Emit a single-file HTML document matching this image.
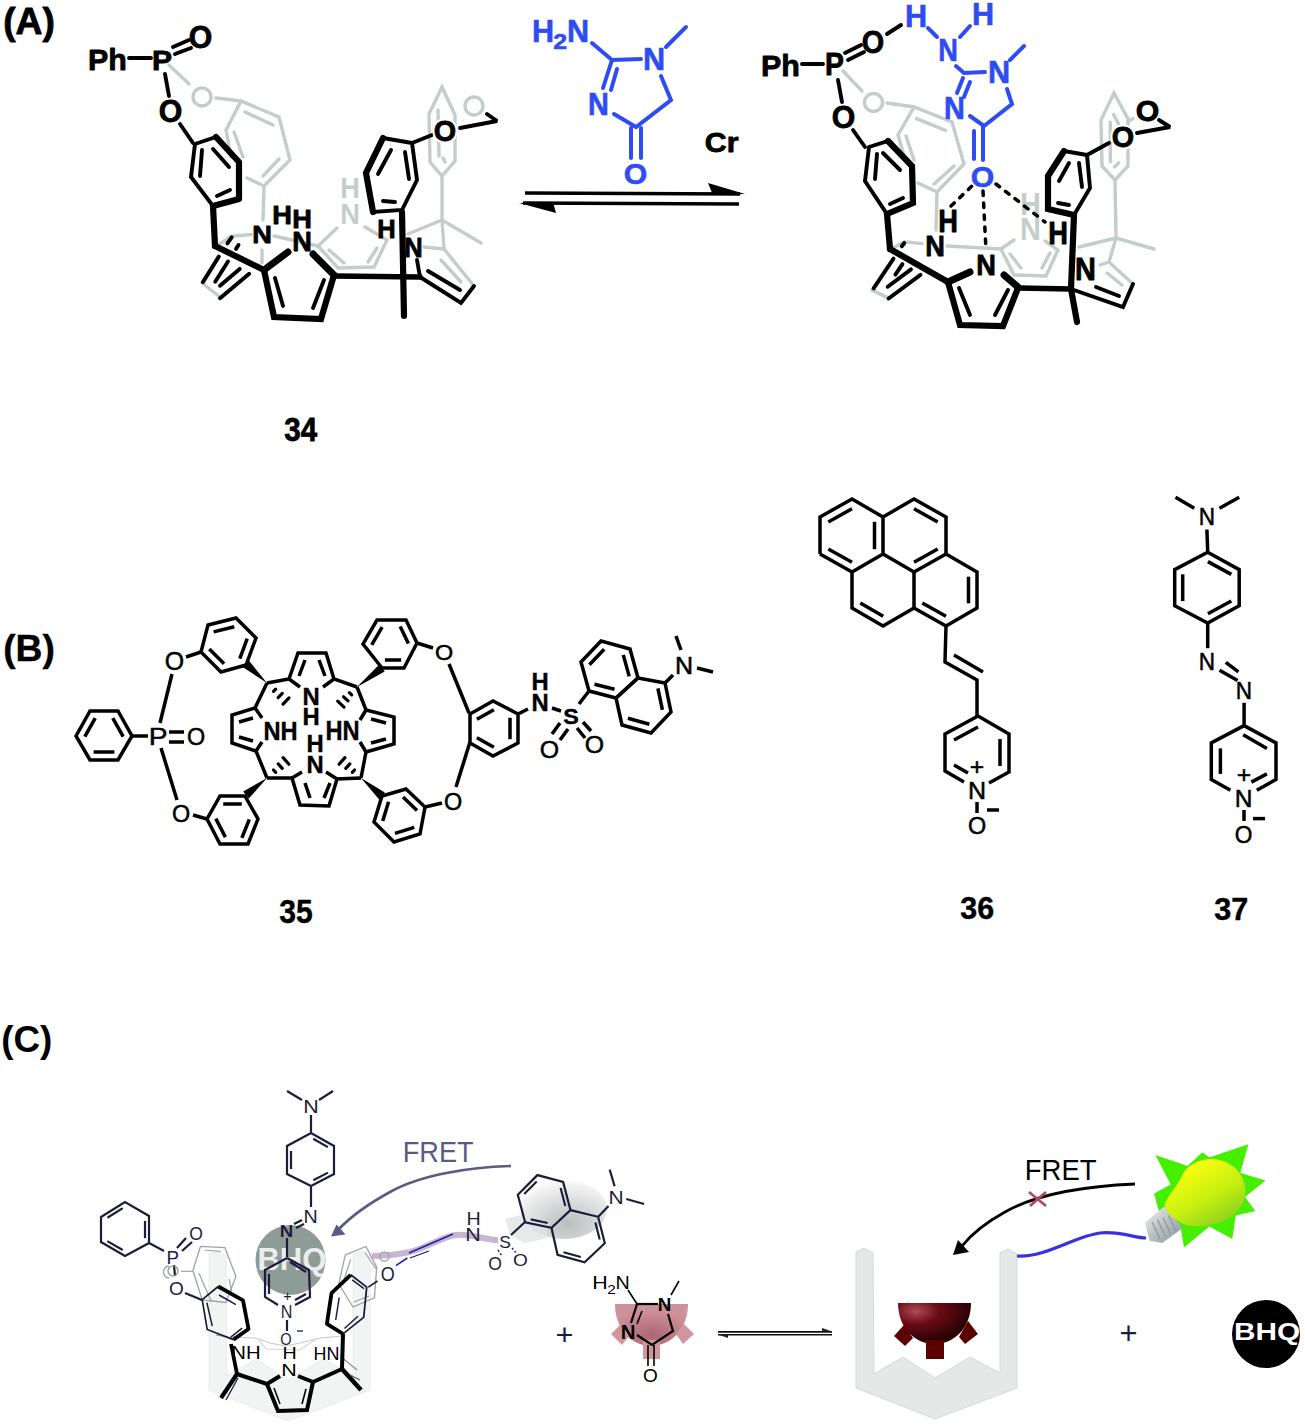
<!DOCTYPE html>
<html><head><meta charset="utf-8"><style>html,body{margin:0;padding:0;background:#fff;}svg{display:block;}</style></head>
<body><svg width="1305" height="1425" viewBox="0 0 1305 1425">
<rect width="1305" height="1425" fill="#fff"/>
<text transform="translate(3.14,33.99) scale(0.989,1)" font-family="Liberation Sans" font-weight="bold" font-size="37.66" fill="#000" stroke="#000" stroke-width="0.8" stroke-linejoin="round">(A)</text>
<line x1="169.0" y1="65.0" x2="189.0" y2="84.0" stroke="#c3cdca" stroke-width="3.4" stroke-linecap="round"/>
<circle cx="202" cy="97" r="9" fill="none" stroke="#c3cdca" stroke-width="3.4"/>
<polyline points="216.0,98.0 241.0,101.0 279.0,117.0 290.0,160.0 264.0,186.0 247.0,178.0" fill="none" stroke="#c3cdca" stroke-width="3.4" stroke-linecap="round" stroke-linejoin="miter" stroke-miterlimit="2.5"/>
<polyline points="241.0,101.0 226.0,130.0 231.0,157.0" fill="none" stroke="#c3cdca" stroke-width="3.4" stroke-linecap="round" stroke-linejoin="miter" stroke-miterlimit="2.5"/>
<line x1="234.0" y1="132.0" x2="243.0" y2="157.0" stroke="#c3cdca" stroke-width="3.4" stroke-linecap="round"/>
<line x1="245.0" y1="112.0" x2="273.0" y2="125.0" stroke="#c3cdca" stroke-width="3.4" stroke-linecap="round"/>
<line x1="279.0" y1="159.0" x2="263.0" y2="176.0" stroke="#c3cdca" stroke-width="3.4" stroke-linecap="round"/>
<line x1="264.0" y1="186.0" x2="263.0" y2="220.0" stroke="#c3cdca" stroke-width="3.4" stroke-linecap="round"/>
<line x1="262.0" y1="250.0" x2="262.0" y2="263.0" stroke="#c3cdca" stroke-width="3.4" stroke-linecap="round"/>
<polyline points="218.8,244.6 230.8,236.3 251.3,234.5" fill="none" stroke="#c3cdca" stroke-width="3.4" stroke-linecap="round" stroke-linejoin="miter" stroke-miterlimit="2.5"/>
<line x1="274.0" y1="236.0" x2="318.0" y2="246.0" stroke="#c3cdca" stroke-width="3.4" stroke-linecap="round"/>
<polyline points="318.0,246.0 337.0,228.0" fill="none" stroke="#c3cdca" stroke-width="3.4" stroke-linecap="round" stroke-linejoin="miter" stroke-miterlimit="2.5"/>
<text transform="translate(340.18,198.00) scale(0.936,1)" font-family="Liberation Sans" font-weight="bold" font-size="29.07" fill="#c3cdca">H</text>
<text transform="translate(340.18,224.00) scale(0.936,1)" font-family="Liberation Sans" font-weight="bold" font-size="29.07" fill="#c3cdca">N</text>
<polyline points="365.0,227.0 387.0,240.0 374.0,267.0 338.0,268.0 318.0,246.0" fill="none" stroke="#c3cdca" stroke-width="3.4" stroke-linecap="round" stroke-linejoin="miter" stroke-miterlimit="2.5"/>
<line x1="329.0" y1="250.0" x2="344.0" y2="263.0" stroke="#c3cdca" stroke-width="3.4" stroke-linecap="round"/>
<line x1="377.0" y1="248.0" x2="368.0" y2="262.0" stroke="#c3cdca" stroke-width="3.4" stroke-linecap="round"/>
<line x1="408.0" y1="234.0" x2="442.0" y2="220.0" stroke="#c3cdca" stroke-width="3.4" stroke-linecap="round"/>
<line x1="442.0" y1="220.0" x2="481.0" y2="243.0" stroke="#c3cdca" stroke-width="3.4" stroke-linecap="round"/>
<line x1="442.0" y1="220.0" x2="444.0" y2="249.0" stroke="#c3cdca" stroke-width="3.4" stroke-linecap="round"/>
<line x1="424.0" y1="247.0" x2="444.0" y2="249.0" stroke="#c3cdca" stroke-width="3.4" stroke-linecap="round"/>
<line x1="444.0" y1="249.0" x2="474.0" y2="286.0" stroke="#c3cdca" stroke-width="3.4" stroke-linecap="round"/>
<line x1="441.0" y1="260.0" x2="461.0" y2="282.0" stroke="#c3cdca" stroke-width="3.4" stroke-linecap="round"/>
<line x1="442.0" y1="176.0" x2="442.0" y2="220.0" stroke="#c3cdca" stroke-width="3.4" stroke-linecap="round"/>
<polygon points="442.0,87.0 455.0,115.0 455.0,161.0 442.0,176.0 430.0,162.0 429.0,114.0" fill="none" stroke="#c3cdca" stroke-width="3.4" stroke-linecap="round" stroke-linejoin="miter" stroke-miterlimit="2.5"/>
<line x1="438.0" y1="110.0" x2="439.0" y2="156.0" stroke="#c3cdca" stroke-width="3.4" stroke-linecap="round"/>
<line x1="443.0" y1="158.0" x2="445.0" y2="162.0" stroke="#c3cdca" stroke-width="3.4" stroke-linecap="round"/>
<circle cx="474" cy="106" r="9" fill="none" stroke="#c3cdca" stroke-width="3.4"/>
<line x1="202.0" y1="283.0" x2="220.0" y2="297.0" stroke="#c3cdca" stroke-width="3.4" stroke-linecap="round"/>
<text transform="translate(87.96,70.00) scale(1.003,1)" font-family="Liberation Sans" font-weight="bold" font-size="30.36" fill="#000" stroke="#000" stroke-width="0.8" stroke-linejoin="round">Ph</text>
<line x1="129.0" y1="58.0" x2="151.0" y2="58.0" stroke="#000" stroke-width="3.9" stroke-linecap="round"/>
<text transform="translate(151.99,70.00) scale(1.088,1)" font-family="Liberation Sans" font-weight="bold" font-size="27.62" fill="#000" stroke="#000" stroke-width="0.8" stroke-linejoin="round">P</text>
<line x1="173.0" y1="47.0" x2="189.0" y2="40.0" stroke="#000" stroke-width="3.9" stroke-linecap="round"/>
<line x1="175.0" y1="54.0" x2="191.0" y2="48.0" stroke="#000" stroke-width="3.9" stroke-linecap="round"/>
<text transform="translate(188.76,47.70) scale(0.973,1)" font-family="Liberation Sans" font-weight="bold" font-size="31.07" fill="#000" stroke="#000" stroke-width="0.8" stroke-linejoin="round">O</text>
<line x1="165.0" y1="74.0" x2="169.0" y2="96.0" stroke="#000" stroke-width="3.9" stroke-linecap="round"/>
<text transform="translate(158.76,121.70) scale(0.973,1)" font-family="Liberation Sans" font-weight="bold" font-size="31.07" fill="#000" stroke="#000" stroke-width="0.8" stroke-linejoin="round">O</text>
<line x1="180.0" y1="124.0" x2="193.0" y2="143.0" stroke="#000" stroke-width="3.9" stroke-linecap="round"/>
<polyline points="195.0,144.0 216.0,137.0 239.0,162.0 239.0,199.0 213.0,206.0 191.0,177.0 195.0,144.0" fill="none" stroke="#000" stroke-width="3.9" stroke-linecap="round" stroke-linejoin="miter" stroke-miterlimit="2.5"/>
<polyline points="216.0,137.0 239.0,162.0 239.0,199.0 213.0,206.0" fill="none" stroke="#000" stroke-width="6.2" stroke-linecap="round" stroke-linejoin="round" stroke-miterlimit="2.5"/>
<line x1="202.0" y1="150.0" x2="200.0" y2="176.0" stroke="#000" stroke-width="3.9" stroke-linecap="round"/>
<line x1="213.0" y1="149.0" x2="229.0" y2="167.0" stroke="#000" stroke-width="3.9" stroke-linecap="round"/>
<line x1="217.0" y1="196.0" x2="230.0" y2="190.0" stroke="#000" stroke-width="3.9" stroke-linecap="round"/>
<line x1="213.0" y1="206.0" x2="215.0" y2="246.0" stroke="#000" stroke-width="6.2" stroke-linecap="round"/>
<line x1="215.0" y1="246.0" x2="264.0" y2="270.0" stroke="#000" stroke-width="6.2" stroke-linecap="round"/>
<line x1="202.9" y1="282.1" x2="218.8" y2="256.6" stroke="#000" stroke-width="3.9" stroke-linecap="round"/>
<line x1="215.2" y1="281.7" x2="228.0" y2="261.5" stroke="#000" stroke-width="3.9" stroke-linecap="round"/>
<line x1="220.0" y1="285.7" x2="239.7" y2="268.9" stroke="#000" stroke-width="3.9" stroke-linecap="round"/>
<line x1="220.0" y1="298.3" x2="249.2" y2="273.8" stroke="#000" stroke-width="3.9" stroke-linecap="round"/>
<line x1="227.4" y1="243.4" x2="231.7" y2="237.3" stroke="#000" stroke-width="3.9" stroke-linecap="round"/>
<line x1="236.0" y1="248.9" x2="238.5" y2="245.0" stroke="#000" stroke-width="3.9" stroke-linecap="round"/>
<line x1="264.0" y1="270.0" x2="288.0" y2="252.0" stroke="#000" stroke-width="7" stroke-linecap="round"/>
<line x1="313.0" y1="254.0" x2="334.0" y2="275.0" stroke="#000" stroke-width="7" stroke-linecap="round"/>
<polyline points="334.0,275.0 321.0,319.0 274.0,317.0 264.0,270.0" fill="none" stroke="#000" stroke-width="6.2" stroke-linecap="round" stroke-linejoin="miter" stroke-miterlimit="2.5"/>
<line x1="275.0" y1="278.0" x2="283.0" y2="306.0" stroke="#000" stroke-width="3.9" stroke-linecap="round"/>
<line x1="324.0" y1="280.0" x2="313.0" y2="308.0" stroke="#000" stroke-width="3.9" stroke-linecap="round"/>
<text transform="translate(292.18,251.00) scale(0.985,1)" font-family="Liberation Sans" font-weight="bold" font-size="27.62" fill="#000" stroke="#000" stroke-width="0.8" stroke-linejoin="round">N</text>
<text transform="translate(292.18,228.00) scale(1.040,1)" font-family="Liberation Sans" font-weight="bold" font-size="26.16" fill="#000" stroke="#000" stroke-width="0.8" stroke-linejoin="round">H</text>
<text transform="translate(272.18,224.00) scale(1.040,1)" font-family="Liberation Sans" font-weight="bold" font-size="26.16" fill="#000" stroke="#000" stroke-width="0.8" stroke-linejoin="round">H</text>
<text transform="translate(252.18,243.00) scale(1.101,1)" font-family="Liberation Sans" font-weight="bold" font-size="24.71" fill="#000" stroke="#000" stroke-width="0.8" stroke-linejoin="round">N</text>
<line x1="334.0" y1="276.0" x2="420.0" y2="277.0" stroke="#000" stroke-width="5.5" stroke-linecap="round"/>
<line x1="402.0" y1="212.0" x2="404.0" y2="316.0" stroke="#000" stroke-width="6.2" stroke-linecap="round"/>
<polyline points="383.0,138.0 412.0,143.0 417.0,180.0 402.0,210.0 373.0,212.0 366.0,173.0 383.0,138.0" fill="none" stroke="#000" stroke-width="3.9" stroke-linecap="round" stroke-linejoin="miter" stroke-miterlimit="2.5"/>
<polyline points="373.0,212.0 366.0,173.0 383.0,138.0" fill="none" stroke="#000" stroke-width="6.2" stroke-linecap="round" stroke-linejoin="miter" stroke-miterlimit="2.5"/>
<line x1="378.0" y1="174.0" x2="391.0" y2="150.0" stroke="#000" stroke-width="3.9" stroke-linecap="round"/>
<line x1="405.0" y1="152.0" x2="409.0" y2="179.0" stroke="#000" stroke-width="3.9" stroke-linecap="round"/>
<line x1="383.0" y1="201.0" x2="395.0" y2="202.0" stroke="#000" stroke-width="3.9" stroke-linecap="round"/>
<line x1="412.0" y1="143.0" x2="432.0" y2="135.0" stroke="#000" stroke-width="3.9" stroke-linecap="round"/>
<text transform="translate(433.82,140.71) scale(0.970,1)" font-family="Liberation Sans" font-weight="bold" font-size="29.66" fill="#fff" stroke="#fff" stroke-width="5" stroke-linejoin="round">O</text>
<text transform="translate(433.82,140.71) scale(0.970,1)" font-family="Liberation Sans" font-weight="bold" font-size="29.66" fill="#000" stroke="#000" stroke-width="0.8" stroke-linejoin="round">O</text>
<polyline points="460.0,128.0 497.0,121.0 487.0,114.0" fill="none" stroke="#000" stroke-width="3.9" stroke-linecap="round" stroke-linejoin="miter" stroke-miterlimit="2.5"/>
<text transform="translate(377.29,238.00) scale(0.975,1)" font-family="Liberation Sans" font-weight="bold" font-size="26.16" fill="#000" stroke="#000" stroke-width="0.8" stroke-linejoin="round">H</text>
<text transform="translate(404.29,257.00) scale(0.924,1)" font-family="Liberation Sans" font-weight="bold" font-size="27.62" fill="#000" stroke="#000" stroke-width="0.8" stroke-linejoin="round">N</text>
<line x1="417.0" y1="260.0" x2="420.0" y2="277.0" stroke="#000" stroke-width="3.9" stroke-linecap="round"/>
<polyline points="420.0,277.0 461.0,303.0 474.0,286.0" fill="none" stroke="#000" stroke-width="3.9" stroke-linecap="round" stroke-linejoin="miter" stroke-miterlimit="2.5"/>
<line x1="428.0" y1="271.0" x2="460.0" y2="290.0" stroke="#000" stroke-width="3.9" stroke-linecap="round"/>
<text transform="translate(284.32,440.64) scale(0.911,1)" font-family="Liberation Sans" font-weight="bold" font-size="32.42" fill="#000" stroke="#000" stroke-width="0.8" stroke-linejoin="round">34</text>
<text transform="translate(531.95,42.00) scale(0.957,1)" font-family="Liberation Sans" font-weight="bold" font-size="31.98" fill="#2e4cf2" stroke="#2e4cf2" stroke-width="0.6" stroke-linejoin="round">H</text>
<text transform="translate(553.14,49.00) scale(1.088,1)" font-family="Liberation Sans" font-weight="bold" font-size="22.91" fill="#2e4cf2" stroke="#2e4cf2" stroke-width="0.6" stroke-linejoin="round">2</text>
<text transform="translate(566.95,42.00) scale(0.957,1)" font-family="Liberation Sans" font-weight="bold" font-size="31.98" fill="#2e4cf2" stroke="#2e4cf2" stroke-width="0.6" stroke-linejoin="round">N</text>
<line x1="592.0" y1="43.0" x2="612.0" y2="60.0" stroke="#2e4cf2" stroke-width="4" stroke-linecap="round"/>
<line x1="612.0" y1="60.0" x2="641.0" y2="59.0" stroke="#2e4cf2" stroke-width="4" stroke-linecap="round"/>
<text transform="translate(642.95,70.00) scale(1.003,1)" font-family="Liberation Sans" font-weight="bold" font-size="30.52" fill="#2e4cf2" stroke="#2e4cf2" stroke-width="0.6" stroke-linejoin="round">N</text>
<line x1="666.0" y1="47.0" x2="686.0" y2="27.0" stroke="#2e4cf2" stroke-width="4" stroke-linecap="round"/>
<polyline points="661.0,76.0 671.0,100.0 636.0,127.0 614.0,114.0" fill="none" stroke="#2e4cf2" stroke-width="4" stroke-linecap="round" stroke-linejoin="miter" stroke-miterlimit="2.5"/>
<text transform="translate(588.07,115.00) scale(0.947,1)" font-family="Liberation Sans" font-weight="bold" font-size="30.52" fill="#2e4cf2" stroke="#2e4cf2" stroke-width="0.6" stroke-linejoin="round">N</text>
<line x1="612.0" y1="60.0" x2="603.0" y2="88.0" stroke="#2e4cf2" stroke-width="4" stroke-linecap="round"/>
<line x1="617.0" y1="69.0" x2="611.0" y2="90.0" stroke="#2e4cf2" stroke-width="4" stroke-linecap="round"/>
<line x1="631.0" y1="128.0" x2="631.0" y2="158.0" stroke="#2e4cf2" stroke-width="4" stroke-linecap="round"/>
<line x1="641.0" y1="128.0" x2="641.0" y2="158.0" stroke="#2e4cf2" stroke-width="4" stroke-linecap="round"/>
<text transform="translate(623.76,183.71) scale(1.019,1)" font-family="Liberation Sans" font-weight="bold" font-size="29.66" fill="#2e4cf2" stroke="#2e4cf2" stroke-width="0.6" stroke-linejoin="round">O</text>
<text transform="translate(704.76,151.74) scale(1.130,1)" font-family="Liberation Sans" font-weight="bold" font-size="26.84" fill="#000" stroke="#000" stroke-width="0.8" stroke-linejoin="round">Cr</text>
<line x1="525.0" y1="193.0" x2="740.0" y2="194.0" stroke="#000" stroke-width="3.6" stroke-linecap="butt"/>
<polygon points="708.0,183.0 745.0,194.0 713.0,195.0" fill="#000"/>
<line x1="523.0" y1="203.0" x2="739.0" y2="204.0" stroke="#000" stroke-width="3.6" stroke-linecap="butt"/>
<polygon points="519.0,203.0 556.0,213.0 553.0,202.0" fill="#000"/>
<line x1="843.0" y1="71.0" x2="862.0" y2="91.0" stroke="#c3cdca" stroke-width="3.4" stroke-linecap="round"/>
<circle cx="873.5" cy="102.5" r="9" fill="none" stroke="#c3cdca" stroke-width="3.4"/>
<polyline points="887.0,103.0 914.0,107.0 952.0,122.0 964.0,164.0 937.0,192.0 918.0,183.0" fill="none" stroke="#c3cdca" stroke-width="3.4" stroke-linecap="round" stroke-linejoin="miter" stroke-miterlimit="2.5"/>
<polyline points="914.0,107.0 898.0,135.0 905.0,159.0" fill="none" stroke="#c3cdca" stroke-width="3.4" stroke-linecap="round" stroke-linejoin="miter" stroke-miterlimit="2.5"/>
<line x1="916.6" y1="118.6" x2="945.5" y2="130.3" stroke="#c3cdca" stroke-width="3.4" stroke-linecap="round"/>
<line x1="906.0" y1="136.0" x2="914.0" y2="160.0" stroke="#c3cdca" stroke-width="3.4" stroke-linecap="round"/>
<line x1="954.0" y1="166.0" x2="934.0" y2="184.0" stroke="#c3cdca" stroke-width="3.4" stroke-linecap="round"/>
<line x1="937.0" y1="192.0" x2="936.0" y2="230.0" stroke="#c3cdca" stroke-width="3.4" stroke-linecap="round"/>
<polyline points="892.0,248.5 904.3,241.7 922.0,243.6" fill="none" stroke="#c3cdca" stroke-width="3.4" stroke-linecap="round" stroke-linejoin="miter" stroke-miterlimit="2.5"/>
<line x1="947.0" y1="246.0" x2="1001.0" y2="249.0" stroke="#c3cdca" stroke-width="3.4" stroke-linecap="round"/>
<line x1="1001.0" y1="249.0" x2="1014.0" y2="240.0" stroke="#c3cdca" stroke-width="3.4" stroke-linecap="round"/>
<text transform="translate(1020.07,215.00) scale(0.947,1)" font-family="Liberation Sans" font-weight="bold" font-size="30.52" fill="#c3cdca">H</text>
<text transform="translate(1020.07,240.00) scale(0.947,1)" font-family="Liberation Sans" font-weight="bold" font-size="30.52" fill="#c3cdca">N</text>
<polyline points="1045.0,241.0 1058.0,250.0 1046.0,276.0 1014.0,275.0 1001.0,249.0" fill="none" stroke="#c3cdca" stroke-width="3.4" stroke-linecap="round" stroke-linejoin="miter" stroke-miterlimit="2.5"/>
<line x1="1010.0" y1="254.0" x2="1021.0" y2="268.0" stroke="#c3cdca" stroke-width="3.4" stroke-linecap="round"/>
<line x1="1050.0" y1="253.0" x2="1042.0" y2="268.0" stroke="#c3cdca" stroke-width="3.4" stroke-linecap="round"/>
<line x1="1079.0" y1="247.0" x2="1116.0" y2="238.0" stroke="#c3cdca" stroke-width="3.4" stroke-linecap="round"/>
<line x1="1116.0" y1="238.0" x2="1154.0" y2="249.0" stroke="#c3cdca" stroke-width="3.4" stroke-linecap="round"/>
<line x1="1116.0" y1="238.0" x2="1109.0" y2="262.0" stroke="#c3cdca" stroke-width="3.4" stroke-linecap="round"/>
<line x1="1100.0" y1="265.0" x2="1109.0" y2="262.0" stroke="#c3cdca" stroke-width="3.4" stroke-linecap="round"/>
<line x1="1109.0" y1="262.0" x2="1133.0" y2="284.0" stroke="#c3cdca" stroke-width="3.4" stroke-linecap="round"/>
<line x1="1107.0" y1="273.0" x2="1122.0" y2="285.0" stroke="#c3cdca" stroke-width="3.4" stroke-linecap="round"/>
<line x1="1115.0" y1="180.0" x2="1116.0" y2="238.0" stroke="#c3cdca" stroke-width="3.4" stroke-linecap="round"/>
<polygon points="1114.0,93.0 1128.0,119.0 1128.0,166.0 1115.0,180.0 1102.0,166.0 1101.0,120.0" fill="none" stroke="#c3cdca" stroke-width="3.4" stroke-linecap="round" stroke-linejoin="miter" stroke-miterlimit="2.5"/>
<line x1="1113.6" y1="114.5" x2="1118.7" y2="124.6" stroke="#c3cdca" stroke-width="3.4" stroke-linecap="round"/>
<line x1="1110.3" y1="122.1" x2="1110.3" y2="161.7" stroke="#c3cdca" stroke-width="3.4" stroke-linecap="round"/>
<line x1="1114.5" y1="166.7" x2="1118.7" y2="162.9" stroke="#c3cdca" stroke-width="3.4" stroke-linecap="round"/>
<line x1="1127.9" y1="121.2" x2="1133.0" y2="118.7" stroke="#c3cdca" stroke-width="3.4" stroke-linecap="round"/>
<line x1="871.7" y1="289.9" x2="888.0" y2="297.9" stroke="#c3cdca" stroke-width="3.4" stroke-linecap="round"/>
<text transform="translate(760.96,76.00) scale(1.003,1)" font-family="Liberation Sans" font-weight="bold" font-size="30.36" fill="#000" stroke="#000" stroke-width="0.8" stroke-linejoin="round">Ph</text>
<line x1="802.0" y1="64.0" x2="823.0" y2="64.0" stroke="#000" stroke-width="3.9" stroke-linecap="round"/>
<text transform="translate(825.11,75.00) scale(0.926,1)" font-family="Liberation Sans" font-weight="bold" font-size="30.52" fill="#000" stroke="#000" stroke-width="0.8" stroke-linejoin="round">P</text>
<line x1="845.0" y1="53.0" x2="861.0" y2="45.0" stroke="#000" stroke-width="3.9" stroke-linecap="round"/>
<line x1="848.0" y1="60.0" x2="864.0" y2="52.0" stroke="#000" stroke-width="3.9" stroke-linecap="round"/>
<text transform="translate(861.82,52.70) scale(0.926,1)" font-family="Liberation Sans" font-weight="bold" font-size="31.07" fill="#000" stroke="#000" stroke-width="0.8" stroke-linejoin="round">O</text>
<line x1="887.0" y1="34.0" x2="901.0" y2="25.0" stroke="#000" stroke-width="3.9" stroke-linecap="round"/>
<line x1="838.0" y1="80.0" x2="842.0" y2="102.0" stroke="#000" stroke-width="3.9" stroke-linecap="round"/>
<text transform="translate(831.76,127.70) scale(0.973,1)" font-family="Liberation Sans" font-weight="bold" font-size="31.07" fill="#000" stroke="#000" stroke-width="0.8" stroke-linejoin="round">O</text>
<line x1="853.0" y1="130.0" x2="865.0" y2="147.0" stroke="#000" stroke-width="3.9" stroke-linecap="round"/>
<polyline points="869.0,147.0 888.0,141.0 912.0,166.0 913.0,203.0 887.0,214.0 865.0,181.0 869.0,147.0" fill="none" stroke="#000" stroke-width="3.9" stroke-linecap="round" stroke-linejoin="miter" stroke-miterlimit="2.5"/>
<polyline points="888.0,141.0 912.0,166.0 913.0,203.0 887.0,214.0" fill="none" stroke="#000" stroke-width="6.2" stroke-linecap="round" stroke-linejoin="miter" stroke-miterlimit="2.5"/>
<line x1="875.0" y1="179.0" x2="877.0" y2="154.0" stroke="#000" stroke-width="3.9" stroke-linecap="round"/>
<line x1="883.0" y1="153.0" x2="900.0" y2="170.0" stroke="#000" stroke-width="3.9" stroke-linecap="round"/>
<line x1="890.0" y1="204.0" x2="903.0" y2="198.0" stroke="#000" stroke-width="3.9" stroke-linecap="round"/>
<line x1="887.0" y1="214.0" x2="890.0" y2="249.0" stroke="#000" stroke-width="6.2" stroke-linecap="round"/>
<line x1="890.0" y1="249.0" x2="948.0" y2="282.0" stroke="#000" stroke-width="6.2" stroke-linecap="round"/>
<line x1="948.0" y1="282.0" x2="970.0" y2="272.0" stroke="#000" stroke-width="7" stroke-linecap="round"/>
<text transform="translate(976.18,275.00) scale(0.936,1)" font-family="Liberation Sans" font-weight="bold" font-size="29.07" fill="#000" stroke="#000" stroke-width="0.8" stroke-linejoin="round">N</text>
<line x1="1004.0" y1="275.0" x2="1018.0" y2="287.0" stroke="#000" stroke-width="7" stroke-linecap="round"/>
<polyline points="1018.0,288.0 1003.0,326.0 960.0,325.0 948.0,282.0" fill="none" stroke="#000" stroke-width="6.2" stroke-linecap="round" stroke-linejoin="miter" stroke-miterlimit="2.5"/>
<line x1="959.0" y1="288.0" x2="970.0" y2="315.0" stroke="#000" stroke-width="3.9" stroke-linecap="round"/>
<line x1="1008.0" y1="290.0" x2="995.0" y2="315.0" stroke="#000" stroke-width="3.9" stroke-linecap="round"/>
<line x1="1018.0" y1="288.0" x2="1071.0" y2="289.0" stroke="#000" stroke-width="5.5" stroke-linecap="round"/>
<polyline points="1074.0,215.0 1071.0,289.0 1077.0,322.0" fill="none" stroke="#000" stroke-width="6.2" stroke-linecap="round" stroke-linejoin="miter" stroke-miterlimit="2.5"/>
<polyline points="1064.0,151.0 1087.0,155.0 1090.0,188.0 1074.0,215.0 1048.0,209.0 1048.0,176.0 1064.0,151.0" fill="none" stroke="#000" stroke-width="3.9" stroke-linecap="round" stroke-linejoin="miter" stroke-miterlimit="2.5"/>
<polyline points="1074.0,215.0 1048.0,209.0 1048.0,176.0 1064.0,151.0" fill="none" stroke="#000" stroke-width="6.2" stroke-linecap="round" stroke-linejoin="miter" stroke-miterlimit="2.5"/>
<line x1="1059.0" y1="181.0" x2="1069.0" y2="163.0" stroke="#000" stroke-width="3.9" stroke-linecap="round"/>
<line x1="1079.0" y1="163.0" x2="1082.0" y2="187.0" stroke="#000" stroke-width="3.9" stroke-linecap="round"/>
<line x1="1058.0" y1="203.0" x2="1069.0" y2="205.0" stroke="#000" stroke-width="3.9" stroke-linecap="round"/>
<line x1="1087.0" y1="155.0" x2="1109.0" y2="143.0" stroke="#000" stroke-width="3.9" stroke-linecap="round"/>
<text transform="translate(1111.82,146.71) scale(0.970,1)" font-family="Liberation Sans" font-weight="bold" font-size="29.66" fill="#fff" stroke="#fff" stroke-width="5" stroke-linejoin="round">O</text>
<text transform="translate(1111.82,146.71) scale(0.970,1)" font-family="Liberation Sans" font-weight="bold" font-size="29.66" fill="#000" stroke="#000" stroke-width="0.8" stroke-linejoin="round">O</text>
<polyline points="1137.0,133.0 1170.0,127.0 1159.0,120.0" fill="none" stroke="#000" stroke-width="3.9" stroke-linecap="round" stroke-linejoin="miter" stroke-miterlimit="2.5"/>
<text transform="translate(1135.76,120.71) scale(1.019,1)" font-family="Liberation Sans" font-weight="bold" font-size="29.66" fill="#000" stroke="#000" stroke-width="0.8" stroke-linejoin="round">O</text>
<text transform="translate(938.18,232.00) scale(0.892,1)" font-family="Liberation Sans" font-weight="bold" font-size="30.52" fill="#000" stroke="#000" stroke-width="0.8" stroke-linejoin="round">H</text>
<text transform="translate(925.18,256.00) scale(0.936,1)" font-family="Liberation Sans" font-weight="bold" font-size="29.07" fill="#000" stroke="#000" stroke-width="0.8" stroke-linejoin="round">N</text>
<text transform="translate(1048.18,244.00) scale(0.892,1)" font-family="Liberation Sans" font-weight="bold" font-size="30.52" fill="#000" stroke="#000" stroke-width="0.8" stroke-linejoin="round">H</text>
<text transform="translate(1075.07,280.00) scale(0.947,1)" font-family="Liberation Sans" font-weight="bold" font-size="30.52" fill="#000" stroke="#000" stroke-width="0.8" stroke-linejoin="round">N</text>
<line x1="873.6" y1="288.4" x2="893.5" y2="258.6" stroke="#000" stroke-width="3.9" stroke-linecap="round"/>
<line x1="895.4" y1="274.6" x2="902.4" y2="264.1" stroke="#000" stroke-width="3.9" stroke-linecap="round"/>
<line x1="887.7" y1="286.8" x2="911.0" y2="269.4" stroke="#000" stroke-width="3.9" stroke-linecap="round"/>
<line x1="888.6" y1="298.5" x2="920.5" y2="274.9" stroke="#000" stroke-width="3.9" stroke-linecap="round"/>
<line x1="901.8" y1="246.3" x2="904.3" y2="243.0" stroke="#000" stroke-width="3.9" stroke-linecap="round"/>
<polyline points="1071.0,289.0 1123.0,307.0 1133.0,284.0" fill="none" stroke="#000" stroke-width="3.9" stroke-linecap="round" stroke-linejoin="miter" stroke-miterlimit="2.5"/>
<line x1="1096.0" y1="287.0" x2="1119.0" y2="296.0" stroke="#000" stroke-width="3.9" stroke-linecap="round"/>
<line x1="951.0" y1="206.0" x2="972.0" y2="186.0" stroke="#000" stroke-width="3.5" stroke-linecap="round" stroke-dasharray="4.5,7.5"/>
<line x1="983.0" y1="191.0" x2="986.0" y2="250.0" stroke="#000" stroke-width="3.5" stroke-linecap="round" stroke-dasharray="4.5,7.5"/>
<line x1="996.0" y1="184.0" x2="1045.0" y2="222.0" stroke="#000" stroke-width="3.5" stroke-linecap="round" stroke-dasharray="4.5,7.5"/>
<text transform="translate(904.95,27.00) scale(1.003,1)" font-family="Liberation Sans" font-weight="bold" font-size="30.52" fill="#2e4cf2" stroke="#2e4cf2" stroke-width="0.6" stroke-linejoin="round">H</text>
<text transform="translate(971.95,25.00) scale(0.957,1)" font-family="Liberation Sans" font-weight="bold" font-size="31.98" fill="#2e4cf2" stroke="#2e4cf2" stroke-width="0.6" stroke-linejoin="round">H</text>
<line x1="928.0" y1="28.0" x2="937.0" y2="37.0" stroke="#2e4cf2" stroke-width="4" stroke-linecap="round"/>
<line x1="960.0" y1="37.0" x2="970.0" y2="26.0" stroke="#2e4cf2" stroke-width="4" stroke-linecap="round"/>
<text transform="translate(938.18,61.00) scale(0.892,1)" font-family="Liberation Sans" font-weight="bold" font-size="30.52" fill="#2e4cf2" stroke="#2e4cf2" stroke-width="0.6" stroke-linejoin="round">N</text>
<polyline points="956.0,66.0 964.0,73.0 985.0,72.0" fill="none" stroke="#2e4cf2" stroke-width="4" stroke-linecap="round" stroke-linejoin="miter" stroke-miterlimit="2.5"/>
<text transform="translate(987.95,83.00) scale(1.003,1)" font-family="Liberation Sans" font-weight="bold" font-size="30.52" fill="#2e4cf2" stroke="#2e4cf2" stroke-width="0.6" stroke-linejoin="round">N</text>
<line x1="1010.0" y1="60.0" x2="1024.0" y2="46.0" stroke="#2e4cf2" stroke-width="4" stroke-linecap="round"/>
<polyline points="1007.0,89.0 1012.0,104.0 984.0,126.0 970.0,116.0" fill="none" stroke="#2e4cf2" stroke-width="4" stroke-linecap="round" stroke-linejoin="miter" stroke-miterlimit="2.5"/>
<line x1="963.0" y1="78.0" x2="957.0" y2="93.0" stroke="#2e4cf2" stroke-width="4" stroke-linecap="round"/>
<line x1="970.0" y1="82.0" x2="964.0" y2="97.0" stroke="#2e4cf2" stroke-width="4" stroke-linecap="round"/>
<text transform="translate(944.07,119.00) scale(0.947,1)" font-family="Liberation Sans" font-weight="bold" font-size="30.52" fill="#2e4cf2" stroke="#2e4cf2" stroke-width="0.6" stroke-linejoin="round">N</text>
<line x1="974.0" y1="131.0" x2="974.0" y2="159.0" stroke="#2e4cf2" stroke-width="4" stroke-linecap="round"/>
<line x1="983.0" y1="126.0" x2="983.0" y2="160.0" stroke="#2e4cf2" stroke-width="4" stroke-linecap="round"/>
<text transform="translate(970.76,186.71) scale(1.019,1)" font-family="Liberation Sans" font-weight="bold" font-size="29.66" fill="#2e4cf2" stroke="#2e4cf2" stroke-width="0.6" stroke-linejoin="round">O</text>
<text transform="translate(3.14,661.21) scale(0.992,1)" font-family="Liberation Sans" font-weight="bold" font-size="37.55" fill="#000" stroke="#000" stroke-width="0.4" stroke-linejoin="round">(B)</text>
<polygon points="76.0,736.0 90.0,711.0 118.0,711.0 132.0,736.0 118.0,760.0 90.0,760.0" fill="none" stroke="#000" stroke-width="3.5" stroke-linecap="butt" stroke-linejoin="miter" stroke-miterlimit="2.5"/>
<line x1="84.8" y1="736.7" x2="95.2" y2="718.2" stroke="#000" stroke-width="3.5" stroke-linecap="butt"/>
<line x1="112.8" y1="718.2" x2="123.2" y2="736.7" stroke="#000" stroke-width="3.5" stroke-linecap="butt"/>
<line x1="114.4" y1="752.0" x2="93.6" y2="752.0" stroke="#000" stroke-width="3.5" stroke-linecap="butt"/>
<line x1="132.0" y1="736.0" x2="148.0" y2="736.0" stroke="#000" stroke-width="3.5" stroke-linecap="butt"/>
<text transform="translate(148.69,745.00) scale(1.141,1)" font-family="Liberation Sans" font-weight="normal" font-size="24.71" fill="#000" stroke="#000" stroke-width="0.5" stroke-linejoin="round">P</text>
<line x1="169.0" y1="732.0" x2="184.0" y2="732.0" stroke="#000" stroke-width="3.5" stroke-linecap="butt"/>
<line x1="169.0" y1="742.0" x2="184.0" y2="742.0" stroke="#000" stroke-width="3.5" stroke-linecap="butt"/>
<text transform="translate(186.89,744.77) scale(0.976,1)" font-family="Liberation Sans" font-weight="normal" font-size="24.01" fill="#000" stroke="#000" stroke-width="0.5" stroke-linejoin="round">O</text>
<line x1="160.0" y1="723.0" x2="172.0" y2="674.0" stroke="#000" stroke-width="3.5" stroke-linecap="butt"/>
<text transform="translate(164.82,669.75) scale(0.980,1)" font-family="Liberation Sans" font-weight="normal" font-size="25.42" fill="#000" stroke="#000" stroke-width="0.5" stroke-linejoin="round">O</text>
<line x1="186.0" y1="657.0" x2="201.0" y2="652.0" stroke="#000" stroke-width="3.5" stroke-linecap="butt"/>
<polygon points="201.0,652.0 208.0,625.0 236.0,618.0 256.0,638.0 246.0,665.0 221.0,672.0" fill="none" stroke="#000" stroke-width="3.5" stroke-linecap="butt" stroke-linejoin="miter" stroke-miterlimit="2.5"/>
<line x1="213.6" y1="631.9" x2="234.3" y2="626.7" stroke="#000" stroke-width="3.5" stroke-linecap="butt"/>
<line x1="247.2" y1="638.7" x2="239.8" y2="658.7" stroke="#000" stroke-width="3.5" stroke-linecap="butt"/>
<line x1="224.1" y1="663.7" x2="209.3" y2="648.9" stroke="#000" stroke-width="3.5" stroke-linecap="butt"/>
<line x1="161.0" y1="748.0" x2="177.0" y2="800.0" stroke="#000" stroke-width="3.5" stroke-linecap="butt"/>
<text transform="translate(171.89,821.77) scale(0.976,1)" font-family="Liberation Sans" font-weight="normal" font-size="24.01" fill="#000" stroke="#000" stroke-width="0.5" stroke-linejoin="round">O</text>
<line x1="193.0" y1="815.0" x2="207.0" y2="819.0" stroke="#000" stroke-width="3.5" stroke-linecap="butt"/>
<polygon points="207.0,819.0 220.0,796.0 245.0,796.0 258.0,819.0 248.0,844.0 220.0,844.0" fill="none" stroke="#000" stroke-width="3.5" stroke-linecap="butt" stroke-linejoin="miter" stroke-miterlimit="2.5"/>
<line x1="223.2" y1="804.0" x2="241.8" y2="804.0" stroke="#000" stroke-width="3.5" stroke-linecap="butt"/>
<line x1="249.3" y1="819.3" x2="241.9" y2="837.8" stroke="#000" stroke-width="3.5" stroke-linecap="butt"/>
<line x1="225.4" y1="837.1" x2="215.8" y2="818.6" stroke="#000" stroke-width="3.5" stroke-linecap="butt"/>
<polyline points="267.0,683.0 289.0,679.0 298.0,653.0 326.0,653.0 334.0,679.0 357.0,687.0" fill="none" stroke="#000" stroke-width="3.5" stroke-linecap="butt" stroke-linejoin="miter" stroke-miterlimit="2.5"/>
<line x1="299.0" y1="676.0" x2="305.0" y2="660.0" stroke="#000" stroke-width="3.5" stroke-linecap="butt"/>
<line x1="319.0" y1="660.0" x2="325.0" y2="676.0" stroke="#000" stroke-width="3.5" stroke-linecap="butt"/>
<line x1="289.0" y1="679.0" x2="300.0" y2="687.0" stroke="#000" stroke-width="3.5" stroke-linecap="butt"/>
<line x1="323.0" y1="687.0" x2="334.0" y2="679.0" stroke="#000" stroke-width="3.5" stroke-linecap="butt"/>
<text transform="translate(302.41,705.00) scale(0.964,1)" font-family="Liberation Sans" font-weight="bold" font-size="24.71" fill="#000" stroke="#000" stroke-width="0.4" stroke-linejoin="round">N</text>
<text transform="translate(302.41,725.00) scale(0.964,1)" font-family="Liberation Sans" font-weight="bold" font-size="24.71" fill="#000" stroke="#000" stroke-width="0.4" stroke-linejoin="round">H</text>
<polyline points="267.0,683.0 255.0,708.0 232.0,715.0 232.0,743.0 256.0,751.0 267.0,778.0" fill="none" stroke="#000" stroke-width="3.5" stroke-linecap="butt" stroke-linejoin="miter" stroke-miterlimit="2.5"/>
<line x1="239.0" y1="722.0" x2="253.0" y2="718.0" stroke="#000" stroke-width="3.5" stroke-linecap="butt"/>
<line x1="239.0" y1="737.0" x2="253.0" y2="741.0" stroke="#000" stroke-width="3.5" stroke-linecap="butt"/>
<line x1="255.0" y1="708.0" x2="262.0" y2="718.0" stroke="#000" stroke-width="3.5" stroke-linecap="butt"/>
<line x1="262.0" y1="742.0" x2="256.0" y2="751.0" stroke="#000" stroke-width="3.5" stroke-linecap="butt"/>
<text transform="translate(263.42,740.00) scale(0.904,1)" font-family="Liberation Sans" font-weight="bold" font-size="26.16" fill="#000" stroke="#000" stroke-width="0.4" stroke-linejoin="round">NH</text>
<polyline points="357.0,687.0 366.0,710.0 394.0,717.0 394.0,744.0 366.0,752.0 361.0,778.0" fill="none" stroke="#000" stroke-width="3.5" stroke-linecap="butt" stroke-linejoin="miter" stroke-miterlimit="2.5"/>
<line x1="371.0" y1="719.0" x2="386.0" y2="723.0" stroke="#000" stroke-width="3.5" stroke-linecap="butt"/>
<line x1="371.0" y1="743.0" x2="386.0" y2="739.0" stroke="#000" stroke-width="3.5" stroke-linecap="butt"/>
<line x1="366.0" y1="710.0" x2="360.0" y2="720.0" stroke="#000" stroke-width="3.5" stroke-linecap="butt"/>
<line x1="360.0" y1="742.0" x2="366.0" y2="752.0" stroke="#000" stroke-width="3.5" stroke-linecap="butt"/>
<text transform="translate(325.42,740.00) scale(0.857,1)" font-family="Liberation Sans" font-weight="bold" font-size="27.62" fill="#000" stroke="#000" stroke-width="0.4" stroke-linejoin="round">HN</text>
<polyline points="267.0,778.0 292.0,778.0 300.0,805.0 329.0,806.0 337.0,779.0 361.0,778.0" fill="none" stroke="#000" stroke-width="3.5" stroke-linecap="butt" stroke-linejoin="miter" stroke-miterlimit="2.5"/>
<line x1="305.0" y1="783.0" x2="310.0" y2="798.0" stroke="#000" stroke-width="3.5" stroke-linecap="butt"/>
<line x1="324.0" y1="798.0" x2="330.0" y2="783.0" stroke="#000" stroke-width="3.5" stroke-linecap="butt"/>
<line x1="292.0" y1="778.0" x2="302.0" y2="772.0" stroke="#000" stroke-width="3.5" stroke-linecap="butt"/>
<line x1="326.0" y1="772.0" x2="337.0" y2="779.0" stroke="#000" stroke-width="3.5" stroke-linecap="butt"/>
<text transform="translate(306.41,752.00) scale(0.964,1)" font-family="Liberation Sans" font-weight="bold" font-size="24.71" fill="#000" stroke="#000" stroke-width="0.4" stroke-linejoin="round">H</text>
<text transform="translate(306.41,773.00) scale(0.964,1)" font-family="Liberation Sans" font-weight="bold" font-size="24.71" fill="#000" stroke="#000" stroke-width="0.4" stroke-linejoin="round">N</text>
<line x1="275.7" y1="689.1" x2="273.5" y2="691.4" stroke="#000" stroke-width="3.2" stroke-linecap="round"/>
<line x1="282.3" y1="693.4" x2="278.1" y2="697.7" stroke="#000" stroke-width="3.2" stroke-linecap="round"/>
<line x1="289.0" y1="697.9" x2="283.0" y2="704.2" stroke="#000" stroke-width="3.2" stroke-linecap="round"/>
<line x1="351.7" y1="694.9" x2="349.4" y2="692.7" stroke="#000" stroke-width="3.2" stroke-linecap="round"/>
<line x1="348.0" y1="700.9" x2="343.6" y2="696.8" stroke="#000" stroke-width="3.2" stroke-linecap="round"/>
<line x1="344.0" y1="707.1" x2="337.7" y2="701.1" stroke="#000" stroke-width="3.2" stroke-linecap="round"/>
<line x1="273.5" y1="770.0" x2="275.7" y2="772.3" stroke="#000" stroke-width="3.2" stroke-linecap="round"/>
<line x1="278.2" y1="763.9" x2="282.2" y2="768.3" stroke="#000" stroke-width="3.2" stroke-linecap="round"/>
<line x1="283.1" y1="757.6" x2="288.9" y2="764.2" stroke="#000" stroke-width="3.2" stroke-linecap="round"/>
<line x1="352.3" y1="772.3" x2="354.5" y2="770.0" stroke="#000" stroke-width="3.2" stroke-linecap="round"/>
<line x1="345.8" y1="768.3" x2="349.8" y2="763.9" stroke="#000" stroke-width="3.2" stroke-linecap="round"/>
<line x1="339.1" y1="764.2" x2="344.9" y2="757.6" stroke="#000" stroke-width="3.2" stroke-linecap="round"/>
<polygon points="267.0,683.0 249.0,660.7 243.0,667.3" fill="#000"/>
<polygon points="357.0,687.0 384.7,671.6 379.3,664.4" fill="#000"/>
<polygon points="267.0,778.0 243.2,791.5 248.8,798.5" fill="#000"/>
<polygon points="361.0,778.0 379.1,799.4 384.9,792.6" fill="#000"/>
<polygon points="382.0,668.0 363.0,644.0 377.0,620.0 406.0,620.0 417.0,643.0 404.0,668.0" fill="none" stroke="#000" stroke-width="3.5" stroke-linecap="butt" stroke-linejoin="miter" stroke-miterlimit="2.5"/>
<line x1="371.7" y1="644.9" x2="382.1" y2="627.2" stroke="#000" stroke-width="3.5" stroke-linecap="butt"/>
<line x1="400.2" y1="626.4" x2="408.4" y2="643.5" stroke="#000" stroke-width="3.5" stroke-linecap="butt"/>
<line x1="401.1" y1="660.0" x2="384.9" y2="660.0" stroke="#000" stroke-width="3.5" stroke-linecap="butt"/>
<line x1="417.0" y1="643.0" x2="433.0" y2="648.0" stroke="#000" stroke-width="3.5" stroke-linecap="butt"/>
<text transform="translate(434.89,659.78) scale(1.037,1)" font-family="Liberation Sans" font-weight="normal" font-size="22.60" fill="#000" stroke="#000" stroke-width="0.5" stroke-linejoin="round">O</text>
<line x1="449.0" y1="664.0" x2="469.0" y2="713.0" stroke="#000" stroke-width="3.5" stroke-linecap="butt"/>
<polygon points="382.0,796.0 406.0,789.0 425.0,807.0 420.0,834.0 394.0,842.0 374.0,822.0" fill="none" stroke="#000" stroke-width="3.5" stroke-linecap="butt" stroke-linejoin="miter" stroke-miterlimit="2.5"/>
<line x1="403.0" y1="797.1" x2="417.0" y2="810.5" stroke="#000" stroke-width="3.5" stroke-linecap="butt"/>
<line x1="414.3" y1="827.4" x2="395.0" y2="833.3" stroke="#000" stroke-width="3.5" stroke-linecap="butt"/>
<line x1="382.7" y1="821.0" x2="388.6" y2="801.7" stroke="#000" stroke-width="3.5" stroke-linecap="butt"/>
<line x1="425.0" y1="807.0" x2="442.0" y2="803.0" stroke="#000" stroke-width="3.5" stroke-linecap="butt"/>
<text transform="translate(443.89,809.77) scale(0.976,1)" font-family="Liberation Sans" font-weight="normal" font-size="24.01" fill="#000" stroke="#000" stroke-width="0.5" stroke-linejoin="round">O</text>
<line x1="456.0" y1="787.0" x2="470.0" y2="742.0" stroke="#000" stroke-width="3.5" stroke-linecap="butt"/>
<polygon points="470.0,714.0 493.0,701.0 518.0,714.0 518.0,743.0 493.0,756.0 470.0,743.0" fill="none" stroke="#000" stroke-width="3.5" stroke-linecap="butt" stroke-linejoin="miter" stroke-miterlimit="2.5"/>
<line x1="476.9" y1="719.3" x2="493.9" y2="709.7" stroke="#000" stroke-width="3.5" stroke-linecap="butt"/>
<line x1="510.0" y1="717.8" x2="510.0" y2="739.2" stroke="#000" stroke-width="3.5" stroke-linecap="butt"/>
<line x1="493.9" y1="747.3" x2="476.9" y2="737.7" stroke="#000" stroke-width="3.5" stroke-linecap="butt"/>
<line x1="518.0" y1="714.0" x2="528.0" y2="709.0" stroke="#000" stroke-width="3.5" stroke-linecap="butt"/>
<text transform="translate(531.41,711.00) scale(0.964,1)" font-family="Liberation Sans" font-weight="bold" font-size="24.71" fill="#000" stroke="#000" stroke-width="0.4" stroke-linejoin="round">N</text>
<text transform="translate(531.41,690.00) scale(0.964,1)" font-family="Liberation Sans" font-weight="bold" font-size="24.71" fill="#000" stroke="#000" stroke-width="0.4" stroke-linejoin="round">H</text>
<line x1="552.0" y1="708.0" x2="561.0" y2="711.0" stroke="#000" stroke-width="3.5" stroke-linecap="butt"/>
<text transform="translate(563.33,723.78) scale(1.034,1)" font-family="Liberation Sans" font-weight="bold" font-size="22.60" fill="#000" stroke="#000" stroke-width="0.4" stroke-linejoin="round">S</text>
<line x1="579.0" y1="704.0" x2="589.0" y2="691.0" stroke="#000" stroke-width="3.5" stroke-linecap="butt"/>
<line x1="552.0" y1="734.0" x2="560.0" y2="723.0" stroke="#000" stroke-width="3.5" stroke-linecap="butt"/>
<line x1="560.0" y1="740.0" x2="568.0" y2="729.0" stroke="#000" stroke-width="3.5" stroke-linecap="butt"/>
<text transform="translate(539.82,757.77) scale(1.037,1)" font-family="Liberation Sans" font-weight="normal" font-size="24.01" fill="#000" stroke="#000" stroke-width="0.5" stroke-linejoin="round">O</text>
<line x1="577.0" y1="728.0" x2="585.0" y2="738.0" stroke="#000" stroke-width="3.5" stroke-linecap="butt"/>
<line x1="583.0" y1="722.0" x2="591.0" y2="731.0" stroke="#000" stroke-width="3.5" stroke-linecap="butt"/>
<text transform="translate(584.82,752.77) scale(1.037,1)" font-family="Liberation Sans" font-weight="normal" font-size="24.01" fill="#000" stroke="#000" stroke-width="0.5" stroke-linejoin="round">O</text>
<polygon points="589.0,691.0 581.0,662.0 601.0,641.0 630.0,649.0 638.0,678.0 616.0,698.0" fill="none" stroke="#000" stroke-width="3.5" stroke-linecap="butt" stroke-linejoin="miter" stroke-miterlimit="2.5"/>
<line x1="589.4" y1="664.8" x2="604.2" y2="649.2" stroke="#000" stroke-width="3.5" stroke-linecap="butt"/>
<line x1="623.3" y1="654.9" x2="629.2" y2="676.4" stroke="#000" stroke-width="3.5" stroke-linecap="butt"/>
<line x1="614.5" y1="689.3" x2="594.5" y2="684.2" stroke="#000" stroke-width="3.5" stroke-linecap="butt"/>
<polygon points="638.0,678.0 665.0,683.0 671.0,712.0 651.0,733.0 622.0,725.0 616.0,698.0" fill="none" stroke="#000" stroke-width="3.5" stroke-linecap="butt" stroke-linejoin="miter" stroke-miterlimit="2.5"/>
<line x1="657.9" y1="688.4" x2="662.4" y2="709.9" stroke="#000" stroke-width="3.5" stroke-linecap="butt"/>
<line x1="649.4" y1="724.2" x2="627.9" y2="718.3" stroke="#000" stroke-width="3.5" stroke-linecap="butt"/>
<line x1="665.0" y1="683.0" x2="673.0" y2="675.0" stroke="#000" stroke-width="3.5" stroke-linecap="butt"/>
<text transform="translate(674.94,674.00) scale(1.078,1)" font-family="Liberation Sans" font-weight="normal" font-size="23.26" fill="#000" stroke="#000" stroke-width="0.5" stroke-linejoin="round">N</text>
<line x1="681.0" y1="650.0" x2="676.0" y2="636.0" stroke="#000" stroke-width="3.5" stroke-linecap="butt"/>
<line x1="697.0" y1="668.0" x2="713.0" y2="672.0" stroke="#000" stroke-width="3.5" stroke-linecap="butt"/>
<text transform="translate(279.31,922.64) scale(0.930,1)" font-family="Liberation Sans" font-weight="bold" font-size="32.42" fill="#000" stroke="#000" stroke-width="0.4" stroke-linejoin="round">35</text>
<polyline points="820.0,554.0 820.0,517.0 852.0,499.0 883.0,517.0 914.0,499.0 946.0,517.0 946.0,554.0 977.0,572.0 977.0,608.0 946.0,626.0 914.0,608.0 883.0,626.0 852.0,608.0 852.0,572.0 820.0,554.0" fill="none" stroke="#000" stroke-width="3.5" stroke-linecap="butt" stroke-linejoin="miter" stroke-miterlimit="2.5"/>
<polyline points="883.0,517.0 883.0,554.0 852.0,572.0" fill="none" stroke="#000" stroke-width="3.5" stroke-linecap="butt" stroke-linejoin="miter" stroke-miterlimit="2.5"/>
<polyline points="883.0,554.0 914.0,572.0 946.0,554.0" fill="none" stroke="#000" stroke-width="3.5" stroke-linecap="butt" stroke-linejoin="miter" stroke-miterlimit="2.5"/>
<polyline points="914.0,572.0 914.0,608.0" fill="none" stroke="#000" stroke-width="3.5" stroke-linecap="butt" stroke-linejoin="miter" stroke-miterlimit="2.5"/>
<line x1="828.3" y1="522.1" x2="852.0" y2="508.7" stroke="#000" stroke-width="3.5" stroke-linecap="butt"/>
<line x1="828.3" y1="548.9" x2="852.0" y2="562.3" stroke="#000" stroke-width="3.5" stroke-linecap="butt"/>
<line x1="874.5" y1="521.8" x2="874.5" y2="549.2" stroke="#000" stroke-width="3.5" stroke-linecap="butt"/>
<line x1="914.0" y1="508.7" x2="937.7" y2="522.1" stroke="#000" stroke-width="3.5" stroke-linecap="butt"/>
<line x1="914.0" y1="562.3" x2="937.7" y2="548.9" stroke="#000" stroke-width="3.5" stroke-linecap="butt"/>
<line x1="860.3" y1="603.0" x2="883.2" y2="616.3" stroke="#000" stroke-width="3.5" stroke-linecap="butt"/>
<line x1="922.3" y1="602.9" x2="946.0" y2="616.3" stroke="#000" stroke-width="3.5" stroke-linecap="butt"/>
<line x1="968.5" y1="603.3" x2="968.5" y2="576.7" stroke="#000" stroke-width="3.5" stroke-linecap="butt"/>
<polyline points="946.0,626.0 945.0,662.0 977.0,680.0 977.0,717.0" fill="none" stroke="#000" stroke-width="3.5" stroke-linecap="butt" stroke-linejoin="miter" stroke-miterlimit="2.5"/>
<line x1="954.0" y1="655.0" x2="983.0" y2="672.0" stroke="#000" stroke-width="3.5" stroke-linecap="butt"/>
<polyline points="964.0,782.0 945.0,771.0 945.0,734.0 978.0,716.0 1009.0,734.0 1009.0,772.0 989.0,783.0" fill="none" stroke="#000" stroke-width="3.5" stroke-linecap="butt" stroke-linejoin="miter" stroke-miterlimit="2.5"/>
<line x1="954.0" y1="740.0" x2="978.0" y2="727.0" stroke="#000" stroke-width="3.5" stroke-linecap="butt"/>
<line x1="1000.0" y1="739.0" x2="1000.0" y2="766.0" stroke="#000" stroke-width="3.5" stroke-linecap="butt"/>
<line x1="954.0" y1="765.0" x2="968.0" y2="773.0" stroke="#000" stroke-width="3.5" stroke-linecap="butt"/>
<text transform="translate(969.79,775.16) scale(1.007,1)" font-family="Liberation Sans" font-weight="normal" font-size="24.53" fill="#000" stroke="#000" stroke-width="0.5" stroke-linejoin="round">+</text>
<text transform="translate(967.94,799.00) scale(1.014,1)" font-family="Liberation Sans" font-weight="normal" font-size="24.71" fill="#000" stroke="#000" stroke-width="0.5" stroke-linejoin="round">N</text>
<line x1="977.0" y1="802.0" x2="977.0" y2="813.0" stroke="#000" stroke-width="3.5" stroke-linecap="butt"/>
<line x1="987.0" y1="810.0" x2="999.0" y2="810.0" stroke="#000" stroke-width="3.5" stroke-linecap="butt"/>
<text transform="translate(967.89,833.77) scale(0.976,1)" font-family="Liberation Sans" font-weight="normal" font-size="24.01" fill="#000" stroke="#000" stroke-width="0.5" stroke-linejoin="round">O</text>
<text transform="translate(960.30,918.65) scale(0.980,1)" font-family="Liberation Sans" font-weight="bold" font-size="31.01" fill="#000" stroke="#000" stroke-width="0.4" stroke-linejoin="round">36</text>
<line x1="1175.5" y1="497.3" x2="1194.3" y2="508.3" stroke="#000" stroke-width="3.5" stroke-linecap="butt"/>
<line x1="1219.5" y1="508.3" x2="1239.2" y2="497.3" stroke="#000" stroke-width="3.5" stroke-linecap="butt"/>
<text transform="translate(1198.75,524.80) scale(0.941,1)" font-family="Liberation Sans" font-weight="normal" font-size="23.98" fill="#000" stroke="#000" stroke-width="0.5" stroke-linejoin="round">N</text>
<line x1="1206.9" y1="529.5" x2="1207.7" y2="551.5" stroke="#000" stroke-width="3.5" stroke-linecap="butt"/>
<polygon points="1207.7,552.3 1239.2,569.6 1239.2,605.8 1207.7,623.1 1174.7,605.8 1174.7,569.6" fill="none" stroke="#000" stroke-width="3.5" stroke-linecap="butt" stroke-linejoin="miter" stroke-miterlimit="2.5"/>
<line x1="1207.9" y1="561.6" x2="1231.3" y2="574.4" stroke="#000" stroke-width="3.5" stroke-linecap="butt"/>
<line x1="1231.3" y1="601.0" x2="1207.9" y2="613.8" stroke="#000" stroke-width="3.5" stroke-linecap="butt"/>
<line x1="1182.7" y1="601.1" x2="1182.7" y2="574.3" stroke="#000" stroke-width="3.5" stroke-linecap="butt"/>
<line x1="1207.7" y1="623.1" x2="1207.7" y2="648.2" stroke="#000" stroke-width="3.5" stroke-linecap="butt"/>
<text transform="translate(1198.75,669.50) scale(0.941,1)" font-family="Liberation Sans" font-weight="normal" font-size="23.98" fill="#000" stroke="#000" stroke-width="0.5" stroke-linejoin="round">N</text>
<line x1="1219.5" y1="670.3" x2="1237.6" y2="680.5" stroke="#000" stroke-width="3.5" stroke-linecap="butt"/>
<line x1="1225.8" y1="662.4" x2="1238.4" y2="671.8" stroke="#000" stroke-width="3.5" stroke-linecap="butt"/>
<text transform="translate(1235.75,698.60) scale(0.935,1)" font-family="Liberation Sans" font-weight="normal" font-size="24.13" fill="#000" stroke="#000" stroke-width="0.5" stroke-linejoin="round">N</text>
<line x1="1244.1" y1="702.8" x2="1244.1" y2="724.7" stroke="#000" stroke-width="3.5" stroke-linecap="butt"/>
<polyline points="1230.4,790.3 1211.3,779.4 1211.3,742.9 1244.1,725.6 1276.0,742.9 1276.0,779.4 1256.8,790.3" fill="none" stroke="#000" stroke-width="3.5" stroke-linecap="butt" stroke-linejoin="miter" stroke-miterlimit="2.5"/>
<line x1="1243.2" y1="734.7" x2="1266.9" y2="748.4" stroke="#000" stroke-width="3.5" stroke-linecap="butt"/>
<line x1="1220.4" y1="748.4" x2="1220.4" y2="773.9" stroke="#000" stroke-width="3.5" stroke-linecap="butt"/>
<line x1="1251.4" y1="782.1" x2="1266.9" y2="773.9" stroke="#000" stroke-width="3.5" stroke-linecap="butt"/>
<text transform="translate(1236.79,783.16) scale(1.007,1)" font-family="Liberation Sans" font-weight="normal" font-size="24.53" fill="#000" stroke="#000" stroke-width="0.5" stroke-linejoin="round">+</text>
<text transform="translate(1234.79,806.80) scale(1.023,1)" font-family="Liberation Sans" font-weight="normal" font-size="23.98" fill="#000" stroke="#000" stroke-width="0.5" stroke-linejoin="round">N</text>
<line x1="1244.0" y1="810.0" x2="1244.0" y2="821.0" stroke="#000" stroke-width="3.5" stroke-linecap="butt"/>
<line x1="1253.0" y1="818.6" x2="1265.0" y2="818.6" stroke="#000" stroke-width="3.5" stroke-linecap="butt"/>
<text transform="translate(1234.82,842.77) scale(0.946,1)" font-family="Liberation Sans" font-weight="normal" font-size="24.01" fill="#000" stroke="#000" stroke-width="0.5" stroke-linejoin="round">O</text>
<text transform="translate(1214.30,919.65) scale(0.987,1)" font-family="Liberation Sans" font-weight="bold" font-size="31.01" fill="#000" stroke="#000" stroke-width="0.4" stroke-linejoin="round">37</text>
<text transform="translate(1.17,1052.21) scale(0.980,1)" font-family="Liberation Sans" font-weight="bold" font-size="37.55" fill="#000">(C)</text>
<defs>
<radialGradient id="bowl" cx="0.25" cy="0.2" r="0.9"><stop offset="0" stop-color="#b04a5a"/><stop offset="0.35" stop-color="#6a0a14"/><stop offset="1" stop-color="#120000"/></radialGradient>
<linearGradient id="bulb" x1="0.2" y1="0.1" x2="0.8" y2="0.95"><stop offset="0" stop-color="#ffff10"/><stop offset="0.55" stop-color="#c8f010"/><stop offset="1" stop-color="#88d020"/></linearGradient>
<linearGradient id="base" x1="0" y1="0" x2="1" y2="1"><stop offset="0" stop-color="#f4f6f6"/><stop offset="0.5" stop-color="#b8c0c0"/><stop offset="1" stop-color="#8a9494"/></linearGradient>
<radialGradient id="cloud" cx="0.55" cy="0.75" r="0.75"><stop offset="0" stop-color="#b8bdbd"/><stop offset="0.5" stop-color="#d9dcdc"/><stop offset="0.85" stop-color="#f1f1f0"/><stop offset="1" stop-color="#fbfbfa" stop-opacity="0.6"/></radialGradient>
</defs>
<polygon points="209.0,1254.0 217.0,1250.0 226.0,1255.0 227.0,1376.0 256.0,1359.0 288.0,1380.0 323.0,1359.0 353.0,1375.0 353.0,1255.0 361.0,1251.0 370.0,1256.0 370.0,1390.0 288.0,1421.0 209.0,1390.0" fill="#eef1f0" opacity="0.75" stroke="#e2e6e4" stroke-width="1"/>
<circle cx="290.5" cy="1260" r="35" fill="#8f9b97" stroke="none" stroke-width="0"/>
<text transform="translate(257.42,1270.19) scale(1.001,1)" font-family="Liberation Sans" font-weight="bold" font-size="31.06" fill="#f3f6f5" opacity="0.9">BHQ</text>
<polyline points="192.9,1270.5 200.5,1246.4 224.9,1247.7 235.9,1276.4 225.8,1302.5 202.2,1300.0 192.9,1270.5" fill="none" stroke="#9ba4a1" stroke-width="1.3" stroke-linecap="butt" stroke-linejoin="miter" stroke-miterlimit="2.5"/>
<line x1="204.7" y1="1250.0" x2="220.7" y2="1251.5" stroke="#9ba4a1" stroke-width="1.2" stroke-linecap="butt"/>
<line x1="198.8" y1="1273.0" x2="211.4" y2="1301.7" stroke="#9ba4a1" stroke-width="1.2" stroke-linecap="butt"/>
<line x1="229.1" y1="1279.0" x2="231.7" y2="1291.0" stroke="#9ba4a1" stroke-width="1.2" stroke-linecap="butt"/>
<line x1="181.0" y1="1271.3" x2="192.9" y2="1271.3" stroke="#9ba4a1" stroke-width="1.2" stroke-linecap="butt"/>
<path d="M169,1266 A5.5,6 0 1,0 169,1278" fill="none" stroke="#9ba4a1" stroke-width="1.3"/>
<polyline points="345.3,1254.9 366.0,1246.5 376.7,1267.2 374.4,1297.8 353.0,1307.0 338.8,1284.0 345.3,1254.9" fill="none" stroke="#9ba4a1" stroke-width="1.3" stroke-linecap="butt" stroke-linejoin="miter" stroke-miterlimit="2.5"/>
<line x1="365.0" y1="1252.5" x2="376.0" y2="1269.0" stroke="#9ba4a1" stroke-width="1.2" stroke-linecap="butt"/>
<line x1="354.0" y1="1302.0" x2="369.0" y2="1296.0" stroke="#9ba4a1" stroke-width="1.2" stroke-linecap="butt"/>
<line x1="350.6" y1="1259.5" x2="343.0" y2="1283.0" stroke="#9ba4a1" stroke-width="1.2" stroke-linecap="butt"/>
<polyline points="233.0,1337.0 255.0,1338.0 270.0,1343.0 285.0,1346.0 300.0,1343.0 320.0,1338.0 342.0,1336.0" fill="none" stroke="#c4cac8" stroke-width="1.2" stroke-linecap="butt" stroke-linejoin="miter" stroke-miterlimit="2.5"/>
<polyline points="258.0,1339.0 266.0,1349.0 300.0,1350.0 316.0,1339.0" fill="none" stroke="#d0d5d3" stroke-width="1.2" stroke-linecap="butt" stroke-linejoin="miter" stroke-miterlimit="2.5"/>
<line x1="216.0" y1="1335.0" x2="232.0" y2="1338.0" stroke="#8a9290" stroke-width="1.2" stroke-linecap="butt"/>
<line x1="340.0" y1="1356.0" x2="357.0" y2="1370.0" stroke="#8a9290" stroke-width="1.2" stroke-linecap="butt"/>
<ellipse cx="564" cy="1209" rx="43" ry="30" fill="url(#cloud)"/>
<path d="M505,1219 L524.5,1214 L549,1223.6 L546.6,1238.3 L524.5,1243.2 L511,1235.8 Z" fill="#dfe3e2" opacity="0.75"/>
<line x1="287.0" y1="1091.0" x2="302.0" y2="1100.0" stroke="#1d1d3a" stroke-width="2.2" stroke-linecap="butt"/>
<line x1="319.0" y1="1100.0" x2="333.0" y2="1091.0" stroke="#1d1d3a" stroke-width="2.2" stroke-linecap="butt"/>
<text transform="translate(303.24,1113.00) scale(1.137,1)" font-family="Liberation Sans" font-weight="normal" font-size="18.90" fill="#1d1d3a">N</text>
<line x1="311.0" y1="1115.0" x2="311.0" y2="1132.0" stroke="#1d1d3a" stroke-width="2.2" stroke-linecap="butt"/>
<polygon points="311.0,1133.0 334.0,1146.0 334.0,1174.0 311.0,1186.0 287.0,1174.0 287.0,1146.0" fill="none" stroke="#1d1d3a" stroke-width="2.2" stroke-linecap="butt" stroke-linejoin="miter" stroke-miterlimit="2.5"/>
<line x1="313.2" y1="1138.8" x2="327.9" y2="1147.1" stroke="#1d1d3a" stroke-width="2.2" stroke-linecap="butt"/>
<line x1="328.0" y1="1172.6" x2="313.3" y2="1180.3" stroke="#1d1d3a" stroke-width="2.2" stroke-linecap="butt"/>
<line x1="291.0" y1="1169.0" x2="291.0" y2="1151.0" stroke="#1d1d3a" stroke-width="2.2" stroke-linecap="butt"/>
<line x1="311.0" y1="1187.0" x2="311.0" y2="1207.0" stroke="#1d1d3a" stroke-width="2.2" stroke-linecap="butt"/>
<text transform="translate(303.38,1223.00) scale(1.042,1)" font-family="Liberation Sans" font-weight="normal" font-size="18.90" fill="#1d1d3a">N</text>
<line x1="294.0" y1="1224.0" x2="302.0" y2="1220.0" stroke="#1d1d3a" stroke-width="2.2" stroke-linecap="butt"/>
<line x1="296.0" y1="1228.0" x2="304.0" y2="1224.0" stroke="#1d1d3a" stroke-width="2.2" stroke-linecap="butt"/>
<text transform="translate(279.75,1237.00) scale(1.170,1)" font-family="Liberation Sans" font-weight="bold" font-size="15.99" fill="#1d1d3a">N</text>
<line x1="287.0" y1="1238.0" x2="287.0" y2="1257.0" stroke="#1d1d3a" stroke-width="2.2" stroke-linecap="butt"/>
<polyline points="287.0,1258.0 309.0,1270.0 310.0,1297.0 295.0,1305.0" fill="none" stroke="#1d1d3a" stroke-width="2.2" stroke-linecap="butt" stroke-linejoin="miter" stroke-miterlimit="2.5"/>
<polyline points="278.0,1305.0 265.0,1297.0 265.0,1270.0 287.0,1258.0" fill="none" stroke="#1d1d3a" stroke-width="2.2" stroke-linecap="butt" stroke-linejoin="miter" stroke-miterlimit="2.5"/>
<line x1="290.0" y1="1262.0" x2="306.0" y2="1272.0" stroke="#1d1d3a" stroke-width="2.2" stroke-linecap="butt"/>
<line x1="269.0" y1="1274.0" x2="269.0" y2="1294.0" stroke="#1d1d3a" stroke-width="2.2" stroke-linecap="butt"/>
<line x1="295.0" y1="1300.0" x2="306.0" y2="1294.0" stroke="#1d1d3a" stroke-width="2.2" stroke-linecap="butt"/>
<text transform="translate(283.30,1301.26) scale(1.007,1)" font-family="Liberation Sans" font-weight="normal" font-size="14.31" fill="#1d1d3a">+</text>
<text transform="translate(280.68,1318.00) scale(0.924,1)" font-family="Liberation Sans" font-weight="normal" font-size="17.44" fill="#1d1d3a">N</text>
<line x1="287.0" y1="1320.0" x2="287.0" y2="1331.0" stroke="#1d1d3a" stroke-width="2.2" stroke-linecap="butt"/>
<text transform="translate(280.31,1344.83) scale(0.864,1)" font-family="Liberation Sans" font-weight="normal" font-size="16.95" fill="#1d1d3a">O</text>
<line x1="297.0" y1="1331.0" x2="303.0" y2="1331.0" stroke="#1d1d3a" stroke-width="1.3" stroke-linecap="butt"/>
<polygon points="101.0,1217.0 125.0,1202.0 149.0,1216.0 149.0,1243.0 125.0,1256.0 101.0,1242.0" fill="none" stroke="#1d1d3a" stroke-width="2.2" stroke-linecap="butt" stroke-linejoin="miter" stroke-miterlimit="2.5"/>
<line x1="107.4" y1="1217.7" x2="122.8" y2="1208.1" stroke="#1d1d3a" stroke-width="2.2" stroke-linecap="butt"/>
<line x1="145.0" y1="1220.9" x2="145.0" y2="1238.1" stroke="#1d1d3a" stroke-width="2.2" stroke-linecap="butt"/>
<line x1="122.7" y1="1250.0" x2="107.3" y2="1241.1" stroke="#1d1d3a" stroke-width="2.2" stroke-linecap="butt"/>
<line x1="149.0" y1="1243.0" x2="164.0" y2="1251.0" stroke="#1d1d3a" stroke-width="2.2" stroke-linecap="butt"/>
<text transform="translate(166.46,1264.00) scale(1.077,1)" font-family="Liberation Sans" font-weight="normal" font-size="17.44" fill="#1d1d3a">P</text>
<line x1="177.0" y1="1248.0" x2="186.0" y2="1238.0" stroke="#1d1d3a" stroke-width="2.2" stroke-linecap="butt"/>
<line x1="182.0" y1="1251.0" x2="192.0" y2="1242.0" stroke="#1d1d3a" stroke-width="2.2" stroke-linecap="butt"/>
<text transform="translate(189.17,1239.82) scale(0.957,1)" font-family="Liberation Sans" font-weight="normal" font-size="18.36" fill="#1d1d3a">O</text>
<line x1="174.0" y1="1265.0" x2="175.0" y2="1276.0" stroke="#1d1d3a" stroke-width="2.2" stroke-linecap="butt"/>
<circle cx="173" cy="1271" r="5" fill="none" stroke="#8a9290" stroke-width="1.2"/>
<text transform="translate(169.10,1294.82) scale(1.037,1)" font-family="Liberation Sans" font-weight="normal" font-size="18.36" fill="#1d1d3a">O</text>
<line x1="185.0" y1="1293.0" x2="202.0" y2="1300.0" stroke="#1d1d3a" stroke-width="2.2" stroke-linecap="butt"/>
<polyline points="233.4,1339.6 207.2,1329.5 202.2,1299.6 218.2,1286.5" fill="none" stroke="#1d1d3a" stroke-width="1.7" stroke-linecap="butt" stroke-linejoin="miter" stroke-miterlimit="2.5"/>
<polyline points="218.2,1286.5 243.0,1300.4 248.5,1329.0 233.4,1339.6" fill="none" stroke="#000" stroke-width="3.8" stroke-linecap="butt" stroke-linejoin="round" stroke-miterlimit="2.5"/>
<line x1="219.0" y1="1295.0" x2="235.9" y2="1304.6" stroke="#1d1d3a" stroke-width="1.5" stroke-linecap="butt"/>
<line x1="206.8" y1="1302.5" x2="212.3" y2="1326.1" stroke="#1d1d3a" stroke-width="1.5" stroke-linecap="butt"/>
<line x1="230.8" y1="1337.1" x2="242.2" y2="1328.2" stroke="#1d1d3a" stroke-width="1.5" stroke-linecap="butt"/>
<line x1="231.0" y1="1344.0" x2="237.0" y2="1374.0" stroke="#000" stroke-width="3.8" stroke-linecap="butt"/>
<line x1="237.0" y1="1374.0" x2="221.0" y2="1398.0" stroke="#000" stroke-width="4.2" stroke-linecap="butt"/>
<line x1="226.0" y1="1400.0" x2="238.0" y2="1378.0" stroke="#1d1d3a" stroke-width="1.3" stroke-linecap="butt"/>
<polyline points="237.0,1374.0 267.0,1384.0 280.0,1376.0" fill="none" stroke="#000" stroke-width="4" stroke-linecap="butt" stroke-linejoin="miter" stroke-miterlimit="2.5"/>
<polyline points="298.0,1376.0 313.0,1382.0" fill="none" stroke="#000" stroke-width="4" stroke-linecap="butt" stroke-linejoin="miter" stroke-miterlimit="2.5"/>
<polyline points="267.0,1384.0 278.0,1411.0 307.0,1410.0 313.0,1382.0" fill="none" stroke="#000" stroke-width="4" stroke-linecap="butt" stroke-linejoin="miter" stroke-miterlimit="2.5"/>
<line x1="274.0" y1="1388.0" x2="280.0" y2="1404.0" stroke="#000" stroke-width="1.6" stroke-linecap="butt"/>
<line x1="306.0" y1="1389.0" x2="302.0" y2="1404.0" stroke="#000" stroke-width="1.6" stroke-linecap="butt"/>
<line x1="313.0" y1="1382.0" x2="342.0" y2="1369.0" stroke="#000" stroke-width="4" stroke-linecap="butt"/>
<line x1="342.0" y1="1369.0" x2="361.0" y2="1390.0" stroke="#000" stroke-width="4.5" stroke-linecap="butt"/>
<line x1="343.0" y1="1334.0" x2="342.0" y2="1369.0" stroke="#000" stroke-width="4" stroke-linecap="butt"/>
<line x1="350.0" y1="1375.0" x2="360.0" y2="1380.0" stroke="#555" stroke-width="1.2" stroke-linecap="butt"/>
<text transform="translate(231.33,1359.00) scale(1.074,1)" font-family="Liberation Sans" font-weight="normal" font-size="18.90" fill="#000">NH</text>
<text transform="translate(282.38,1359.00) scale(1.232,1)" font-family="Liberation Sans" font-weight="normal" font-size="15.99" fill="#000">H</text>
<text transform="translate(281.24,1376.00) scale(1.344,1)" font-family="Liberation Sans" font-weight="normal" font-size="15.99" fill="#000">N</text>
<text transform="translate(313.53,1360.00) scale(0.950,1)" font-family="Liberation Sans" font-weight="normal" font-size="18.90" fill="#000">HN</text>
<polyline points="350.7,1274.8 366.7,1287.1 363.7,1317.4 343.0,1333.9" fill="none" stroke="#1d1d3a" stroke-width="1.8" stroke-linecap="butt" stroke-linejoin="miter" stroke-miterlimit="2.5"/>
<polyline points="350.7,1274.8 331.5,1293.2 326.9,1323.9 343.0,1333.9" fill="none" stroke="#000" stroke-width="3.8" stroke-linecap="butt" stroke-linejoin="round" stroke-miterlimit="2.5"/>
<line x1="352.2" y1="1279.8" x2="364.0" y2="1288.6" stroke="#1d1d3a" stroke-width="1.5" stroke-linecap="butt"/>
<line x1="339.2" y1="1297.5" x2="335.7" y2="1320.0" stroke="#1d1d3a" stroke-width="1.5" stroke-linecap="butt"/>
<line x1="344.5" y1="1328.5" x2="357.9" y2="1316.2" stroke="#1d1d3a" stroke-width="1.5" stroke-linecap="butt"/>
<line x1="368.3" y1="1287.1" x2="377.5" y2="1281.0" stroke="#1d1d3a" stroke-width="1.7" stroke-linecap="butt"/>
<text transform="translate(380.85,1280.81) scale(0.924,1)" font-family="Liberation Sans" font-weight="normal" font-size="19.49" fill="#1d1d3a">O</text>
<path d="M372,1256 C390,1256 400,1254 410,1252 C425,1248 440,1238 455,1235 C470,1233 485,1240 498,1240" fill="none" stroke="#a88fbb" stroke-width="6" opacity="0.65"/>
<circle cx="384.4" cy="1256.5" r="4.6" fill="none" stroke="#9aa2a0" stroke-width="1.3"/>
<line x1="395.9" y1="1265.7" x2="407.4" y2="1258.0" stroke="#2020c0" stroke-width="1.6" stroke-linecap="butt"/>
<line x1="409.0" y1="1253.0" x2="453.0" y2="1234.0" stroke="#2020a0" stroke-width="1.5" stroke-linecap="butt"/>
<line x1="410.0" y1="1258.0" x2="429.0" y2="1251.0" stroke="#1d1d3a" stroke-width="1.3" stroke-linecap="butt"/>
<text transform="translate(466.38,1225.00) scale(1.129,1)" font-family="Liberation Sans" font-weight="normal" font-size="17.44" fill="#1d1d3a">H</text>
<text transform="translate(465.24,1241.00) scale(1.232,1)" font-family="Liberation Sans" font-weight="normal" font-size="17.44" fill="#1d1d3a">N</text>
<text transform="translate(499.21,1247.83) scale(1.025,1)" font-family="Liberation Sans" font-weight="normal" font-size="16.95" fill="#1d1d3a">S</text>
<line x1="498.0" y1="1250.0" x2="502.0" y2="1256.0" stroke="#1d1d3a" stroke-width="1.4" stroke-linecap="butt" stroke-dasharray="2,2"/>
<line x1="512.0" y1="1248.0" x2="516.0" y2="1253.0" stroke="#1d1d3a" stroke-width="1.4" stroke-linecap="butt" stroke-dasharray="2,2"/>
<text transform="translate(488.17,1269.82) scale(0.957,1)" font-family="Liberation Sans" font-weight="normal" font-size="18.36" fill="#1d1d3a">O</text>
<text transform="translate(513.10,1265.83) scale(1.124,1)" font-family="Liberation Sans" font-weight="normal" font-size="16.95" fill="#1d1d3a">O</text>
<line x1="511.0" y1="1235.0" x2="525.0" y2="1222.0" stroke="#1d1d3a" stroke-width="2.2" stroke-linecap="butt"/>
<polygon points="525.1,1222.3 517.8,1194.8 537.4,1175.1 563.1,1181.9 570.5,1210.1 551.5,1227.9" fill="none" stroke="#1d1d3a" stroke-width="2.2" stroke-linecap="butt" stroke-linejoin="miter" stroke-miterlimit="2.5"/>
<line x1="524.2" y1="1194.1" x2="536.7" y2="1181.5" stroke="#1d1d3a" stroke-width="2.2" stroke-linecap="butt"/>
<line x1="560.6" y1="1188.0" x2="565.3" y2="1206.0" stroke="#1d1d3a" stroke-width="2.2" stroke-linecap="butt"/>
<line x1="547.6" y1="1223.0" x2="530.7" y2="1219.4" stroke="#1d1d3a" stroke-width="2.2" stroke-linecap="butt"/>
<polyline points="570.5,1210.1 598.1,1216.8 604.8,1243.2 584.6,1262.2 557.6,1254.8 551.5,1227.9" fill="none" stroke="#1d1d3a" stroke-width="2.2" stroke-linecap="butt" stroke-linejoin="miter" stroke-miterlimit="2.5"/>
<line x1="595.4" y1="1222.5" x2="599.7" y2="1239.4" stroke="#1d1d3a" stroke-width="2.2" stroke-linecap="butt"/>
<line x1="580.8" y1="1257.0" x2="563.5" y2="1252.3" stroke="#1d1d3a" stroke-width="2.2" stroke-linecap="butt"/>
<line x1="598.0" y1="1217.0" x2="608.5" y2="1206.0" stroke="#1d1d3a" stroke-width="2.2" stroke-linecap="butt"/>
<text transform="translate(608.58,1204.00) scale(1.172,1)" font-family="Liberation Sans" font-weight="normal" font-size="17.88" fill="#1d1d3a">N</text>
<line x1="614.6" y1="1186.2" x2="609.7" y2="1169.6" stroke="#1d1d3a" stroke-width="2.2" stroke-linecap="butt"/>
<line x1="626.3" y1="1199.0" x2="644.1" y2="1204.0" stroke="#1d1d3a" stroke-width="2.2" stroke-linecap="butt"/>
<text transform="translate(402.77,1162.00) scale(0.933,1)" font-family="Liberation Sans" font-weight="normal" font-size="29.07" fill="#5b5a84">FRET</text>
<path d="M511,1166 C470,1167 420,1175 390,1192 C370,1203 352,1215 338,1230" fill="none" stroke="#5b5a84" stroke-width="2.6"/>
<polygon points="331.0,1236.5 336.5,1224.5 345.5,1234.5" fill="#5b5a84"/>
<text transform="translate(555.49,1344.51) scale(1.079,1)" font-family="Liberation Sans" font-weight="normal" font-size="28.61" fill="#1d1d3a">+</text>
<radialGradient id="pinkg" cx="0.5" cy="0.75" r="0.6"><stop offset="0" stop-color="#a04c5c"/><stop offset="1" stop-color="#c57e88"/></radialGradient>
<g opacity="0.85" fill="#c8848d"><path d="M615,1304 L688,1304 C688,1330 670,1346 651,1346 C632,1346 615,1330 615,1304 Z" fill="url(#pinkg)"/><polygon points="611,1334 620,1325 629,1336 622,1345"/><rect x="643" y="1340" width="17" height="19"/><polygon points="676,1334 684,1324 694,1334 683,1344"/></g>
<text transform="translate(592.24,1289.00) scale(1.137,1)" font-family="Liberation Sans" font-weight="normal" font-size="18.90" fill="#000">H</text>
<text transform="translate(607.23,1294.00) scale(1.192,1)" font-family="Liberation Sans" font-weight="normal" font-size="12.89" fill="#000">2</text>
<text transform="translate(615.38,1289.00) scale(1.042,1)" font-family="Liberation Sans" font-weight="normal" font-size="18.90" fill="#000">N</text>
<line x1="628.0" y1="1290.0" x2="637.0" y2="1304.0" stroke="#000" stroke-width="1.6" stroke-linecap="butt"/>
<line x1="637.0" y1="1304.0" x2="658.0" y2="1304.0" stroke="#000" stroke-width="2.2" stroke-linecap="butt"/>
<text transform="translate(657.75,1311.00) scale(0.990,1)" font-family="Liberation Sans" font-weight="bold" font-size="18.90" fill="#000">N</text>
<line x1="671.0" y1="1295.0" x2="679.0" y2="1281.0" stroke="#000" stroke-width="1.6" stroke-linecap="butt"/>
<polyline points="668.0,1314.0 673.0,1331.0 652.0,1345.0 637.0,1335.0" fill="none" stroke="#000" stroke-width="2.2" stroke-linecap="butt" stroke-linejoin="miter" stroke-miterlimit="2.5"/>
<text transform="translate(620.63,1339.00) scale(1.003,1)" font-family="Liberation Sans" font-weight="bold" font-size="20.35" fill="#000">N</text>
<line x1="637.0" y1="1304.0" x2="631.0" y2="1323.0" stroke="#000" stroke-width="2.2" stroke-linecap="butt"/>
<line x1="642.0" y1="1311.0" x2="637.0" y2="1324.0" stroke="#000" stroke-width="1.6" stroke-linecap="butt"/>
<line x1="648.0" y1="1345.0" x2="648.0" y2="1366.0" stroke="#000" stroke-width="1.6" stroke-linecap="butt"/>
<line x1="654.0" y1="1345.0" x2="654.0" y2="1366.0" stroke="#000" stroke-width="1.6" stroke-linecap="butt"/>
<text transform="translate(643.10,1381.82) scale(1.037,1)" font-family="Liberation Sans" font-weight="normal" font-size="18.36" fill="#000">O</text>
<line x1="718.0" y1="1331.9" x2="832.0" y2="1331.9" stroke="#111" stroke-width="1.6" stroke-linecap="butt"/>
<line x1="718.0" y1="1334.7" x2="832.0" y2="1334.7" stroke="#111" stroke-width="1.6" stroke-linecap="butt"/>
<polygon points="822.0,1328.0 832.0,1331.6 822.0,1331.6" fill="#1d1d3a"/>
<polygon points="718.0,1334.6 728.0,1334.6 728.0,1338.0" fill="#1d1d3a"/>
<polygon points="856.0,1252.0 864.0,1248.0 873.0,1253.0 874.0,1374.0 903.0,1357.0 935.0,1378.0 970.0,1357.0 1000.0,1373.0 1000.0,1253.0 1008.0,1249.0 1017.0,1254.0 1017.0,1388.0 935.0,1419.0 856.0,1388.0" fill="#e4e9e7" stroke="#d4dad8" stroke-width="1"/>
<path d="M898,1303 L971,1303 C971,1327 955,1344 934.5,1344 C914,1344 898,1327 898,1303 Z" fill="url(#bowl)"/>
<polygon points="894.0,1336.0 904.0,1325.0 913.0,1338.0 905.0,1346.0" fill="#5c0000"/>
<polygon points="926.0,1340.0 944.0,1340.0 944.0,1359.0 926.0,1359.0" fill="#5c0000"/>
<polygon points="959.0,1337.0 968.0,1321.0 978.0,1334.0 965.0,1344.0" fill="#5c0000"/>
<text transform="translate(1024.74,1180.00) scale(0.947,1)" font-family="Liberation Sans" font-weight="normal" font-size="29.07" fill="#000">FRET</text>
<path d="M1135,1184 C1090,1186 1040,1192 1005,1212 C985,1223 970,1236 962,1246" fill="none" stroke="#000" stroke-width="2.8"/>
<polygon points="953.0,1255.0 958.0,1240.0 969.0,1252.0" fill="#000"/>
<line x1="1029.0" y1="1192.0" x2="1046.0" y2="1206.0" stroke="#b04a58" stroke-width="2.6" stroke-linecap="butt"/>
<line x1="1046.0" y1="1192.0" x2="1030.0" y2="1206.0" stroke="#b04a58" stroke-width="2.6" stroke-linecap="butt"/>
<path d="M1017,1256 C1045,1258 1075,1236 1100,1233 C1120,1231 1135,1238 1146,1238" fill="none" stroke="#3a30e0" stroke-width="3.2"/>
<polygon points="1155.3,1155.1 1187.5,1166.0 1202.4,1152.2 1209.3,1157.4 1248.4,1144.2 1240.3,1172.9 1265.6,1180.4 1245.0,1197.1 1255.3,1210.9 1235.7,1215.5 1232.3,1239.0 1209.3,1226.4 1184.0,1247.6 1180.6,1227.0 1160.0,1215.0 1154.1,1193.6 1170.8,1184.4" fill="#44f000"/>
<polygon points="1164.5,1206.3 1144.9,1222.4 1149.5,1240.7 1162.2,1243.0 1182.9,1228.1" fill="url(#base)"/>
<line x1="1152.0" y1="1222.0" x2="1160.0" y2="1239.0" stroke="#8f9a9a" stroke-width="1.2" stroke-linecap="butt"/>
<line x1="1157.5" y1="1219.8" x2="1165.5" y2="1236.8" stroke="#8f9a9a" stroke-width="1.2" stroke-linecap="butt"/>
<line x1="1163.0" y1="1217.5" x2="1171.0" y2="1234.5" stroke="#8f9a9a" stroke-width="1.2" stroke-linecap="butt"/>
<line x1="1168.5" y1="1215.2" x2="1176.5" y2="1232.2" stroke="#8f9a9a" stroke-width="1.2" stroke-linecap="butt"/>
<path d="M1164.5,1204 C1168,1196 1176,1188 1182,1176 C1186,1166 1198,1159 1212.8,1159.1 C1228,1160 1242,1170 1245,1186 C1247,1200 1240,1214 1222,1222 C1208,1227 1190,1228 1180.6,1222.4 C1172,1218 1166,1212 1164.5,1204 Z" fill="url(#bulb)"/>
<text transform="translate(1119.49,1343.69) scale(1.007,1)" font-family="Liberation Sans" font-weight="normal" font-size="30.66" fill="#1d1d3a">+</text>
<circle cx="1266" cy="1334" r="34" fill="#000" stroke="none" stroke-width="0"/>
<text transform="translate(1234.01,1340.38) scale(1.271,1)" font-family="Liberation Sans" font-weight="bold" font-size="23.46" fill="#fff">BHQ</text>
</svg></body></html>
